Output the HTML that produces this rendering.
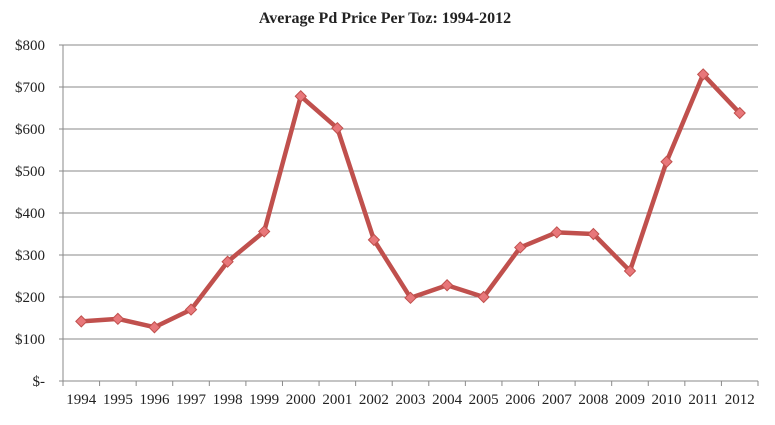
<!DOCTYPE html>
<html><head><meta charset="utf-8"><style>
body{margin:0;background:#fff}
svg text{font-family:"Liberation Serif",serif;fill:#222}
</style></head><body>
<svg id="c" width="775" height="420">
<text x="385" y="23" text-anchor="middle" font-size="16" font-weight="bold">Average Pd Price Per Toz: 1994-2012</text>
<g id="grid"></g><g id="axes"></g><g id="series"></g>
</svg>
<script>
const years=["1994","1995","1996","1997","1998","1999","2000","2001","2002","2003","2004","2005","2006","2007","2008","2009","2010","2011","2012"];
const prices=[142,148,128,170,284,356,678,602,336,198,228,200,318,354,350,262,522,730,638];
const yTicks=[0,100,200,300,400,500,600,700,800];
const yTickLabels=["$-","$100","$200","$300","$400","$500","$600","$700","$800"];
const NS="http://www.w3.org/2000/svg";
const X0=63,X1=758,Y0=381,Y1=45,YMAX=800;
const bw=(X1-X0)/years.length;
const xs=i=>X0+(i+0.5)*bw;
const ys=v=>Y0-(v/YMAX)*(Y0-Y1);
function mk(t,a,p){const e=document.createElementNS(NS,t);for(const k in a)e.setAttribute(k,a[k]);p.appendChild(e);return e;}
const grid=document.getElementById('grid'),axes=document.getElementById('axes'),ser=document.getElementById('series');
yTicks.forEach((v,i)=>{
  if(v>0){const l=mk('line',{x1:X0,x2:X1,y1:ys(v),y2:ys(v),stroke:'#8a8a8a','stroke-width':1},grid);
  
  }
  const tk=mk('line',{x1:X0-4,x2:X0,y1:ys(v),y2:ys(v),stroke:'#8a8a8a'},axes);
  
  
  const t=mk('text',{x:45,y:ys(v)+5,'text-anchor':'end','font-size':15},axes);
  t.textContent=yTickLabels[i];
  
  
});
const ya=mk('line',{x1:X0,x2:X0,y1:Y1,y2:Y0,stroke:'#8a8a8a'},axes);


const xa=mk('line',{x1:X0,x2:X1,y1:Y0,y2:Y0,stroke:'#8a8a8a'},axes);


for(let i=0;i<=years.length;i++){
  const tk=mk('line',{x1:X0+i*bw,x2:X0+i*bw,y1:Y0,y2:Y0+5,stroke:'#8a8a8a'},axes);
  
  
}
years.forEach((y,i)=>{
  const t=mk('text',{x:xs(i),y:Y0+23,'text-anchor':'middle','font-size':15},axes);
  t.textContent=y;
  
  
});
const pl=mk('polyline',{points:prices.map((v,i)=>xs(i)+','+ys(v)).join(' '),fill:'none',stroke:'#c0504d','stroke-width':4.5,'stroke-linejoin':'round'},ser);


prices.forEach((v,i)=>{
  const x=xs(i),y=ys(v),r=5.5;
  const m=mk('polygon',{points:`${x},${y-r} ${x+r},${y} ${x},${y+r} ${x-r},${y}`,fill:'#e8777a',stroke:'#c0504d','stroke-width':1},ser);
  
  
});
</script>
</body></html>
